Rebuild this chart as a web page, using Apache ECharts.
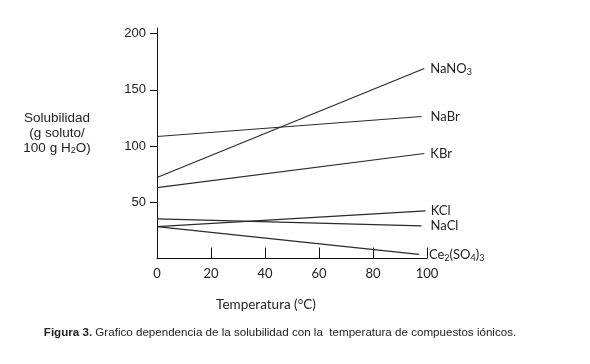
<!DOCTYPE html>
<html>
<head>
<meta charset="utf-8">
<style>html,body{margin:0;padding:0;background:#fff;}#c{width:590px;height:364px;}</style>
<script src="https://cdn.jsdelivr.net/npm/echarts@6/dist/echarts.min.js"></script>
</head>
<body>
<div id="c"></div>
<script>
// Data
var seriesNames = ['NaNO3', 'NaBr', 'KBr', 'KCl', 'NaCl', 'Ce2(SO4)3'];
var seriesLabels = ['NaNO{s|3}', 'NaBr', 'KBr', 'KCl', 'NaCl', 'Ce{s|2}(SO{s|4}){s|3}'];
var tempStart = [0, 0, 0, 0, 0, 0];
var tempEnd = [99, 98, 99, 99.5, 98, 97];
var solStart = [72, 108.5, 63, 28.3, 35.2, 28.3];
var solEnd = [169, 126.3, 93.4, 42.3, 29, 3.7];
var xTickValues = [20, 40, 60, 80, 100];
var xLabelValues = [0, 20, 40, 60, 80, 100];
var yTickValues = [50, 100, 150, 200];
var yAxisTitle = 'Solubilidad\n(g soluto/\n100 g H{s|2}O)';
var xAxisTitle = 'Temperatura (°C)';
var captionBold = 'Figura 3.';
var captionText = ' Grafico dependencia de la solubilidad con la  temperatura de compuestos iónicos.';

var labelGaps = [6, 9, 6, 5, 9, 10];
var ink = '#222';
var chart = echarts.init(document.getElementById('c'), null, {renderer: 'canvas'});

var series = seriesNames.map(function (n, i) {
  return {
    name: n,
    type: 'line',
    data: [[tempStart[i], solStart[i]], [tempEnd[i], solEnd[i]]],
    showSymbol: false,
    symbol: 'none',
    silent: true,
    animation: false,
    lineStyle: {color: '#2a2a2a', width: 1.2},
    endLabel: {
      show: true,
      distance: labelGaps[i],
      formatter: function () { return seriesLabels[i]; },
      fontFamily: 'Lato', fontSize: 13, color: ink,
      lineHeight: 16,
      rich: {
        s: {fontFamily: 'Lato', fontSize: 9, lineHeight: 9, verticalAlign: 'bottom', color: ink}
      }
    }
  };
});

chart.setOption({
  animation: false,
  backgroundColor: '#fff',
  grid: {left: 157, right: 163, top: 28, bottom: 105.5, containLabel: false},
  xAxis: {
    type: 'value', min: 0, max: 100, interval: 20,
    axisLine: {show: true, lineStyle: {color: '#111', width: 1}},
    axisTick: {show: true, inside: true, length: 11, customValues: xTickValues, lineStyle: {color: '#111', width: 1}},
    axisLabel: {show: true, customValues: xLabelValues, margin: 9, fontFamily: 'Lato', fontSize: 13, color: ink},
    splitLine: {show: false}
  },
  yAxis: {
    type: 'value', min: 0, max: 205,
    axisLine: {show: true, lineStyle: {color: '#111', width: 1}},
    axisTick: {show: true, inside: false, length: 7, customValues: yTickValues, lineStyle: {color: '#111', width: 1}},
    axisLabel: {show: true, customValues: yTickValues, margin: 11, fontFamily: 'Liberation Sans', fontSize: 13, color: ink},
    splitLine: {show: false}
  },
  graphic: [
    {type: 'text', x: 57, y: 133, silent: true, style: {
      text: yAxisTitle, textAlign: 'center', textVerticalAlign: 'middle',
      fontFamily: 'Liberation Sans', fontSize: 13.5, lineHeight: 15, fill: ink,
      rich: {s: {fontFamily: 'Liberation Sans', fontSize: 9, lineHeight: 9, verticalAlign: 'bottom', fill: ink}}
    }},
    {type: 'text', x: 266, y: 305, silent: true, style: {
      text: xAxisTitle, textAlign: 'center', textVerticalAlign: 'middle',
      fontFamily: 'Lato', fontSize: 13.5, fill: ink
    }},
    {type: 'text', x: 280, y: 333, silent: true, style: {
      text: '{b|' + captionBold + '}' + captionText, textAlign: 'center', textVerticalAlign: 'middle',
      fontFamily: 'Liberation Sans', fontSize: 11.6, fill: ink,
      rich: {b: {fontFamily: 'Liberation Sans', fontSize: 11.6, fontWeight: 'bold', fill: ink}}
    }}
  ],
  series: series
});
</script>
</body>
</html>
